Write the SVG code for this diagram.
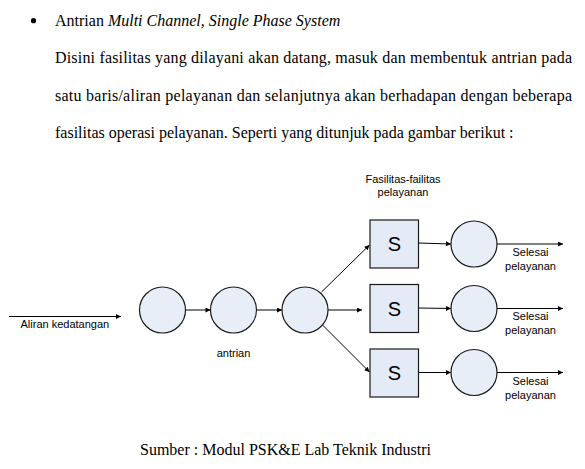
<svg xmlns="http://www.w3.org/2000/svg" width="585" height="469" viewBox="0 0 585 469">
<style>
.body{font-family:"Liberation Serif","Times New Roman",serif;font-size:16px;fill:#000}
.lbl{font-family:"Liberation Sans",Arial,sans-serif;font-size:11px;fill:#000}
.ctr{text-anchor:middle}
.node{fill:#e8eef8;stroke:#1a1a1a;stroke-width:1.2}
.box{fill:#e4eaf6;stroke:#1a1a1a;stroke-width:1.2}
.s{font-family:"Liberation Sans",Arial,sans-serif;font-size:20px;fill:#000;text-anchor:middle}
.edge{stroke:#000;stroke-width:1;fill:none;marker-end:url(#ah)}
</style>
<defs>
<marker id="ah" viewBox="0 0 10 10" refX="10" refY="5" markerWidth="7" markerHeight="5" markerUnits="userSpaceOnUse" orient="auto">
<path d="M0,0 L10,5 L0,10 z" fill="#000"/>
</marker>
</defs>
<rect width="585" height="469" fill="#fff"/>
<g id="text-block">
<circle cx="33.5" cy="20.7" r="2.6" fill="#000"/>
<text class="body" x="55" y="26">Antrian <tspan font-style="italic">Multi Channel, Single Phase System</tspan></text>
<text class="body" x="55" y="63" textLength="517" lengthAdjust="spacing">Disini fasilitas yang dilayani akan datang, masuk dan membentuk antrian pada</text>
<text class="body" x="55" y="100.5" textLength="517" lengthAdjust="spacing">satu baris/aliran pelayanan dan selanjutnya akan berhadapan dengan beberapa</text>
<text class="body" x="55" y="138">fasilitas operasi pelayanan. Seperti yang ditunjuk pada gambar berikut :</text>
<text class="body" x="140" y="455">Sumber : Modul PSK&amp;E Lab Teknik Industri</text>
</g>
<g id="connectors">
<line class="edge" x1="9" y1="316.5" x2="121" y2="316.5"/>
<line class="edge" x1="185.5" y1="310" x2="210.5" y2="310"/>
<line class="edge" x1="256.5" y1="310" x2="282" y2="310"/>
<line class="edge" x1="321.5" y1="292" x2="369.5" y2="245"/>
<line class="edge" x1="328" y1="310" x2="362" y2="310"/>
<line class="edge" x1="322.5" y1="325" x2="369.5" y2="372"/>
<line class="edge" x1="418.5" y1="243" x2="451" y2="244"/>
<line class="edge" x1="418.5" y1="308" x2="451" y2="308.5"/>
<line class="edge" x1="418.5" y1="372.5" x2="451" y2="372.5"/>
<line class="edge" x1="497" y1="244" x2="563" y2="244"/>
<line class="edge" x1="497" y1="308.5" x2="563" y2="308.5"/>
<line class="edge" x1="497" y1="372.5" x2="563" y2="372.5"/>
</g>
<g id="label-arrival"><text class="lbl" x="20.5" y="327.5">Aliran kedatangan</text></g>
<g id="q1"><circle class="node" cx="162.5" cy="310" r="23"/></g>
<g id="q2"><circle class="node" cx="233.5" cy="310" r="23"/></g>
<g id="q3"><circle class="node" cx="305" cy="310" r="23"/></g>
<g id="label-antrian"><text class="lbl ctr" x="233.5" y="356.5">antrian</text></g>
<g id="label-fasilitas"><text class="lbl ctr" x="403" y="183">Fasilitas-failitas</text><text class="lbl ctr" x="403" y="196">pelayanan</text></g>
<g id="s1"><rect class="box" x="370" y="220" width="48.5" height="48"/><text class="s" x="394.5" y="251">S</text></g>
<g id="s2"><rect class="box" x="370" y="284.5" width="48.5" height="48"/><text class="s" x="394.5" y="315.5">S</text></g>
<g id="s3"><rect class="box" x="370" y="349" width="48.5" height="48"/><text class="s" x="394.5" y="380">S</text></g>
<g id="d1"><circle class="node" cx="474" cy="244" r="23"/></g>
<g id="d2"><circle class="node" cx="474" cy="308.5" r="23"/></g>
<g id="d3"><circle class="node" cx="474" cy="372.5" r="23"/></g>
<g id="out1"><text class="lbl ctr" x="530.5" y="256">Selesai</text><text class="lbl ctr" x="530.5" y="270">pelayanan</text></g>
<g id="out2"><text class="lbl ctr" x="530.5" y="320">Selesai</text><text class="lbl ctr" x="530.5" y="334">pelayanan</text></g>
<g id="out3"><text class="lbl ctr" x="530.5" y="385">Selesai</text><text class="lbl ctr" x="530.5" y="399">pelayanan</text></g>
</svg>
